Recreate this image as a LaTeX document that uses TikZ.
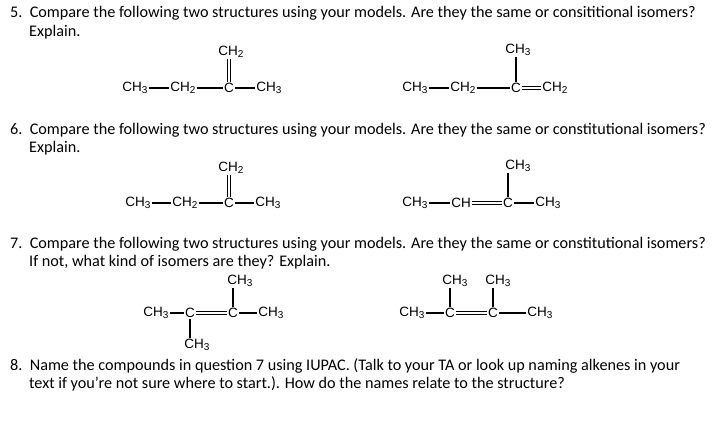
\documentclass[tikz,border=0pt]{standalone}
\usepackage{fontspec}
\setmainfont{Carlito}
\newfontfamily\chemf{Liberation Sans}
\newcommand\chsub[1]{\raisebox{-0.35ex}{\fontsize{10}{10}\selectfont #1}}
\begin{document}
\begin{tikzpicture}[x=1pt,y=-1pt,
  q/.style={anchor=west,inner sep=0pt,font=\fontsize{16.2}{19}\selectfont},
  a/.style={inner sep=1pt,font=\chemf\fontsize{13.5}{15}\selectfont},
  b/.style={line width=1.2pt},
  bb/.style={line width=1pt,double,double distance=2.5pt}]
\useasboundingbox (0,0) rectangle (716,427);
% questions
\node[q] (n5) at (10,13) {5.\ \ Compare the following two structures using your models. Are they the same or consititional isomers?};
\node[q] (e5) at (29,32) {Explain.};
\node[q] (n6) at (10,130) {6.\ \ Compare the following two structures using your models. Are they the same or constitutional isomers?};
\node[q] (e6) at (29,148) {Explain.};
\node[q] (n7) at (10,244) {7.\ \ Compare the following two structures using your models. Are they the same or constitutional isomers?};
\node[q] (e7) at (29,262) {If not, what kind of isomers are they? Explain.};
\node[q] (n8) at (10,366) {8.\ \ Name the compounds in question 7 using IUPAC. (Talk to your TA or look up naming alkenes in your};
\node[q] (e8) at (29,384) {text if you're not sure where to start.). How do the names relate to the structure?};
% Q5 left
\node[a] (a1) at (135,88) {CH\chsub3};
\node[a] (a2) at (183,88) {CH\chsub2};
\node[a] (a3) at (229,88) {C};
\node[a] (a4) at (269,88) {CH\chsub3};
\node[a] (a5) at (231,52) {CH\chsub2};
\draw[b] (a1) -- (a2); \draw[b] (a2) -- (a3); \draw[b] (a3) -- (a4);
\draw[bb] (a3.north) -- (a3.north |- a5.south);
% Q5 right
\node[a] (b1) at (415,88) {CH\chsub3};
\node[a] (b2) at (463,88) {CH\chsub2};
\node[a] (b3) at (516,88) {C};
\node[a] (b4) at (555,88) {CH\chsub2};
\node[a] (b5) at (518,50) {CH\chsub3};
\draw[b] (b1) -- (b2); \draw[b] (b2) -- (b3); \draw[bb] (b3) -- (b4);
\draw[b] (b3.north) -- (b3.north |- b5.south);
% Q6 left
\node[a] (c1) at (138,203) {CH\chsub3};
\node[a] (c2) at (185,203) {CH\chsub2};
\node[a] (c3) at (229,203) {C};
\node[a] (c4) at (268,203) {CH\chsub3};
\node[a] (c5) at (231,168) {CH\chsub2};
\draw[b] (c1) -- (c2); \draw[b] (c2) -- (c3); \draw[b] (c3) -- (c4);
\draw[bb] (c3.north) -- (c3.north |- c5.south);
% Q6 right
\node[a] (d1) at (415,203) {CH\chsub3};
\node[a] (d2) at (461,203) {CH};
\node[a] (d3) at (508,203) {C};
\node[a] (d4) at (548,203) {CH\chsub3};
\node[a] (d5) at (518,166) {CH\chsub3};
\draw[b] (d1) -- (d2); \draw[bb] (d2) -- (d3); \draw[b] (d3) -- (d4);
\draw[b] (d3.north) -- (d3.north |- d5.south);
% Q7 left
\node[a] (e1) at (156,313) {CH\chsub3};
\node[a] (e2) at (190,313) {C};
\node[a] (e3) at (233,313) {C};
\node[a] (e4) at (271,313) {CH\chsub3};
\node[a] (e5) at (240,281) {CH\chsub3};
\node[a] (e6) at (197,345) {CH\chsub3};
\draw[b] (e1) -- (e2); \draw[bb] (e2) -- (e3); \draw[b] (e3) -- (e4);
\draw[b] (e3.north) -- (e3.north |- e5.south);
\draw[b] (e2.south) -- (e2.south |- e6.north);
% Q7 right
\node[a] (f1) at (412,313) {CH\chsub3};
\node[a] (f2) at (450,313) {C};
\node[a] (f3) at (493,313) {C};
\node[a] (f4) at (540,313) {CH\chsub3};
\node[a] (f5) at (455,281) {CH\chsub3};
\node[a] (f6) at (498,281) {CH\chsub3};
\draw[b] (f1) -- (f2); \draw[bb] (f2) -- (f3); \draw[b] (f3) -- (f4);
\draw[b] (f2.north) -- (f2.north |- f5.south);
\draw[b] (f3.north) -- (f3.north |- f6.south);
\end{tikzpicture}
\end{document}
